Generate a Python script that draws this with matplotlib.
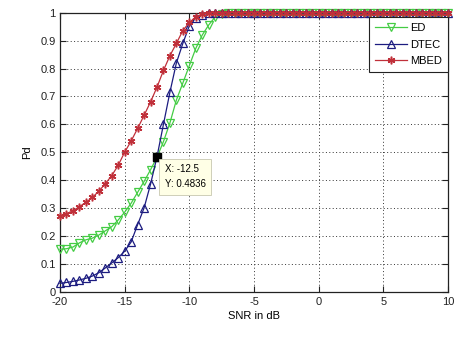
import numpy as np
import matplotlib
matplotlib.use("Agg")
import matplotlib.pyplot as plt

plt.rcParams['font.family'] = ['Liberation Sans', 'DejaVu Sans']
plt.rcParams['axes.unicode_minus'] = False

# SNR sweep (dB), 0.5 dB step
snr = np.arange(-20, 10.5, 0.5)

pd_ed = [0.152, 0.154, 0.160, 0.175, 0.186, 0.192, 0.203, 0.218, 0.233, 0.257,
         0.285, 0.317, 0.356, 0.395, 0.437, 0.482, 0.538, 0.605, 0.687, 0.748,
         0.810, 0.872, 0.920, 0.956, 0.985, 0.996, 1.0,
         1.0, 1.0, 1.0, 1.0, 1.0, 1.0, 1.0, 1.0, 1.0, 1.0, 1.0, 1.0, 1.0, 1.0, 1.0, 1.0, 1.0,
         1.0, 1.0, 1.0, 1.0, 1.0, 1.0, 1.0, 1.0, 1.0, 1.0, 1.0, 1.0, 1.0, 1.0, 1.0, 1.0, 1.0]

pd_dtec = [0.030, 0.033, 0.037, 0.042, 0.048, 0.056, 0.068, 0.085, 0.103, 0.122,
           0.145, 0.178, 0.240, 0.300, 0.385, 0.4836, 0.600, 0.715, 0.820, 0.890,
           0.953, 0.982, 0.993, 0.998, 0.999,
           1.0, 1.0, 1.0, 1.0, 1.0, 1.0, 1.0, 1.0, 1.0, 1.0, 1.0, 1.0, 1.0, 1.0, 1.0, 1.0, 1.0, 1.0,
           1.0, 1.0, 1.0, 1.0, 1.0, 1.0, 1.0, 1.0, 1.0, 1.0, 1.0, 1.0, 1.0, 1.0, 1.0, 1.0, 1.0, 1.0]

pd_mbed = [0.272, 0.280, 0.290, 0.305, 0.320, 0.338, 0.360, 0.387, 0.416, 0.453,
           0.500, 0.540, 0.585, 0.632, 0.680, 0.733, 0.793, 0.846, 0.890, 0.936,
           0.965, 0.985, 0.995, 0.999, 1.0,
           1.0, 1.0, 1.0, 1.0, 1.0, 1.0, 1.0, 1.0, 1.0, 1.0, 1.0, 1.0, 1.0, 1.0, 1.0, 1.0, 1.0, 1.0,
           1.0, 1.0, 1.0, 1.0, 1.0, 1.0, 1.0, 1.0, 1.0, 1.0, 1.0, 1.0, 1.0, 1.0, 1.0, 1.0, 1.0, 1.0]

tip_x, tip_y = -12.5, 0.4836

fig = plt.figure(figsize=(4.74, 3.49), dpi=100)
ax = fig.add_axes([0.1266, 0.1642, 0.8184, 0.7994])

ax.plot(snr, pd_ed, color='#44cc44', lw=0.9, marker='v', ms=5.2,
        mfc='none', mec='#44cc44', mew=0.9, label='ED', clip_on=False, zorder=3)
ax.plot(snr, pd_dtec, color='#1c1c80', lw=0.9, marker='^', ms=5.2,
        mfc='none', mec='#1c1c80', mew=0.9, label='DTEC', clip_on=False, zorder=4)
ax.plot(snr, pd_mbed, color='#c0303a', lw=0.9, marker=(6, 2, 0), ms=5.5,
        mec='#c0303a', mew=1.1, label='MBED', clip_on=False, zorder=5)

# data cursor
ax.plot([tip_x], [tip_y], marker='s', ms=5.5, color='black', zorder=6)
ax.annotate(f"X: {tip_x}\nY: {tip_y}", xy=(tip_x, tip_y), xytext=(5.5, -5.5),
            textcoords='offset points', ha='left', va='top', fontsize=7,
            linespacing=1.6,
            bbox=dict(boxstyle='square,pad=0.6', fc='#ffffe6', ec='#c8c8b0', lw=0.6),
            zorder=7)

ax.set_xlim(-20, 10)
ax.set_ylim(0, 1)
ax.set_xticks([-20, -15, -10, -5, 0, 5, 10])
ax.set_yticks([0, 0.1, 0.2, 0.3, 0.4, 0.5, 0.6, 0.7, 0.8, 0.9, 1])
ax.set_yticklabels(['0', '0.1', '0.2', '0.3', '0.4', '0.5', '0.6', '0.7', '0.8', '0.9', '1'])
ax.tick_params(direction='in', length=4, width=0.8, labelsize=8, colors='#222222',
               top=True, right=True, pad=3)
ax.tick_params(axis='x', pad=4)
ax.grid(True, linestyle=(0, (1, 2.5)), color='#333333', lw=0.7)
for s in ax.spines.values():
    s.set_color('#222222')
    s.set_linewidth(0.9)

ax.set_xlabel('SNR in dB', fontsize=8, labelpad=3)
ax.set_ylabel('Pd', fontsize=8, labelpad=6)

leg = ax.legend(loc='upper right', bbox_to_anchor=(1.0, 0.985), borderaxespad=0,
                fontsize=8, fancybox=False, edgecolor='#222222', framealpha=1,
                handlelength=2.8, handletextpad=0.3, borderpad=0.55, labelspacing=0.6)
leg.get_frame().set_linewidth(0.8)

fig.savefig('out.png', dpi=100)
